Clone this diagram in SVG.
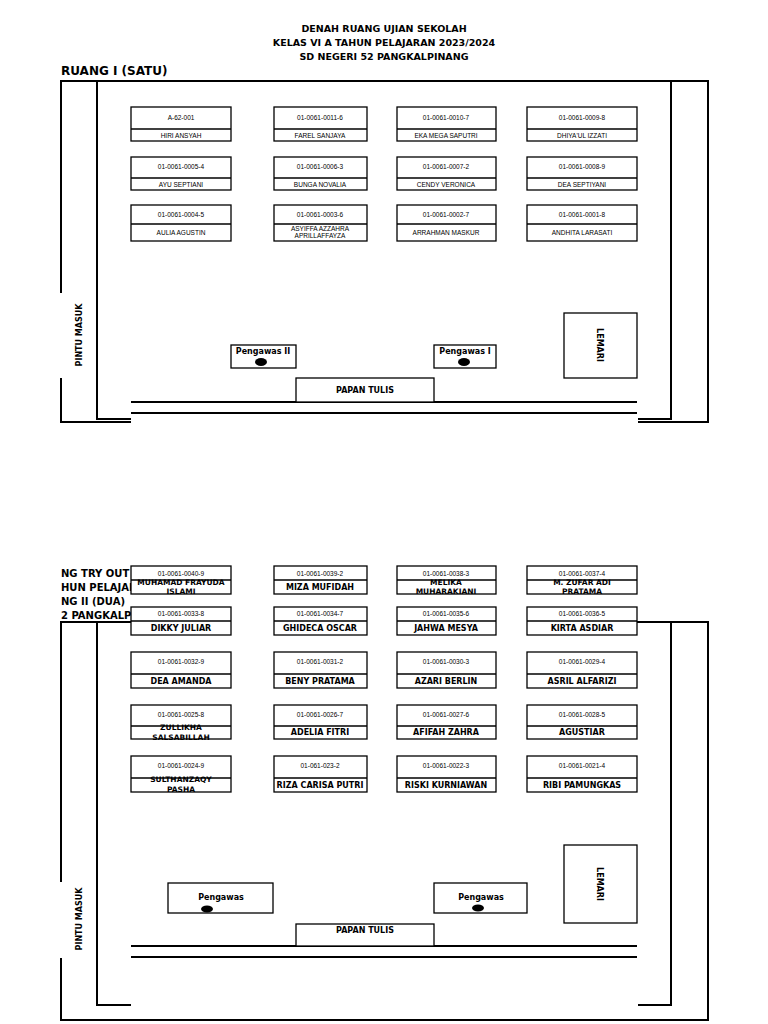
<svg xmlns="http://www.w3.org/2000/svg" width="768" height="1024" viewBox="0 0 768 1024">
<style>
.w{stroke:#000;stroke-width:2;fill:none}
.d rect{fill:#fff;stroke:#000;stroke-width:1.3}
.d line{stroke:#000;stroke-width:1.3}
.n{font-family:"Liberation Sans",sans-serif;font-size:6.5px;text-anchor:middle}
.m{font-family:"DejaVu Sans",sans-serif;font-size:8px;font-weight:bold;text-anchor:middle}
.m2{font-family:"DejaVu Sans",sans-serif;font-size:7.5px;font-weight:bold;text-anchor:middle}
.t{font-family:"DejaVu Sans",sans-serif;font-size:9.5px;font-weight:bold;text-anchor:middle}
.h{font-family:"DejaVu Sans",sans-serif;font-size:12px;font-weight:bold}
.h2{font-family:"DejaVu Sans",sans-serif;font-size:10px;font-weight:bold}
.s{font-family:"DejaVu Sans",sans-serif;font-size:8px;font-weight:bold;text-anchor:middle}
</style>
<rect width="768" height="1024" fill="#fff"/>
<g id="title1">
<text class="t" x="384" y="32">DENAH RUANG UJIAN SEKOLAH</text>
<text class="t" x="384" y="46">KELAS VI A TAHUN PELAJARAN 2023/2024</text>
<text class="t" x="384" y="60">SD NEGERI 52 PANGKALPINANG</text>
<text class="h" x="61" y="75">RUANG I (SATU)</text>
</g>
<g id="title2">
<text class="h2" x="61" y="577">NG TRY OUT</text>
<text class="h2" x="61" y="591">HUN PELAJAR</text>
<text class="h2" x="61" y="605">NG II (DUA)</text>
<text class="h2" x="61" y="619">2 PANGKALP</text>
</g>
<g id="walls1" class="w">
<path d="M61,293V81H708V422H638M131,422H61V378"/>
<path d="M97,81V419H131M638,419H671V81"/>
<path d="M131,402H637M131,413H637"/>
</g>
<g id="walls2" class="w">
<path d="M61,882V622H131M637,622H708V1020H61V958"/>
<path d="M97,622V1005H131M638,1005H671V622"/>
<path d="M131,946H637M131,957H637"/>
</g>
<g id="room1-items" class="d">
<rect x="296" y="378" width="138" height="24"/><text class="s" x="365" y="393">PAPAN TULIS</text>
<rect x="564" y="313" width="73" height="65"/><text class="s" transform="translate(597,345) rotate(90)">LEMARI</text>
<rect x="231" y="345" width="65" height="23"/><text class="s" x="263" y="354">Pengawas II</text><ellipse cx="261" cy="362" rx="6" ry="4"/>
<rect x="434" y="345" width="62" height="23"/><text class="s" x="465" y="354">Pengawas I</text><ellipse cx="464" cy="362" rx="6" ry="4"/>
<text class="s" transform="translate(82,335) rotate(-90)">PINTU MASUK</text>
</g>
<g id="room2-items" class="d">
<rect x="296" y="924" width="138" height="22"/><text class="s" x="365" y="933">PAPAN TULIS</text>
<rect x="564" y="845" width="73" height="78"/><text class="s" transform="translate(597,884) rotate(90)">LEMARI</text>
<rect x="168" y="883" width="105" height="30"/><text class="s" x="221" y="900">Pengawas</text><ellipse cx="207" cy="909" rx="6" ry="3.5"/>
<rect x="434" y="883" width="93" height="30"/><text class="s" x="481" y="900">Pengawas</text><ellipse cx="478" cy="908" rx="6" ry="3.5"/>
<text class="s" transform="translate(82,919) rotate(-90)">PINTU MASUK</text>
</g>
<g id="desks1" class="d">
<g><rect x="131" y="107" width="100" height="34"/><line x1="131" y1="129" x2="231" y2="129"/><text class="n" x="181" y="120">A-62-001</text><text class="n" x="181" y="138">HIRI ANSYAH</text></g>
<g><rect x="274" y="107" width="93" height="34"/><line x1="274" y1="129" x2="367" y2="129"/><text class="n" x="320" y="120">01-0061-0011-6</text><text class="n" x="320" y="138">FAREL SANJAYA</text></g>
<g><rect x="397" y="107" width="99" height="34"/><line x1="397" y1="129" x2="496" y2="129"/><text class="n" x="446" y="120">01-0061-0010-7</text><text class="n" x="446" y="138">EKA MEGA SAPUTRI</text></g>
<g><rect x="527" y="107" width="110" height="34"/><line x1="527" y1="129" x2="637" y2="129"/><text class="n" x="582" y="120">01-0061-0009-8</text><text class="n" x="582" y="138">DHIYA'UL IZZATI</text></g>
<g><rect x="131" y="157" width="100" height="33"/><line x1="131" y1="178" x2="231" y2="178"/><text class="n" x="181" y="169">01-0061-0005-4</text><text class="n" x="181" y="187">AYU SEPTIANI</text></g>
<g><rect x="274" y="157" width="93" height="33"/><line x1="274" y1="178" x2="367" y2="178"/><text class="n" x="320" y="169">01-0061-0006-3</text><text class="n" x="320" y="187">BUNGA NOVALIA</text></g>
<g><rect x="397" y="157" width="99" height="33"/><line x1="397" y1="178" x2="496" y2="178"/><text class="n" x="446" y="169">01-0061-0007-2</text><text class="n" x="446" y="187">CENDY VERONICA</text></g>
<g><rect x="527" y="157" width="110" height="33"/><line x1="527" y1="178" x2="637" y2="178"/><text class="n" x="582" y="169">01-0061-0008-9</text><text class="n" x="582" y="187">DEA SEPTIYANI</text></g>
<g><rect x="131" y="205" width="100" height="36"/><line x1="131" y1="224" x2="231" y2="224"/><text class="n" x="181" y="217">01-0061-0004-5</text><text class="n" x="181" y="235">AULIA AGUSTIN</text></g>
<g><rect x="274" y="205" width="93" height="36"/><line x1="274" y1="224" x2="367" y2="224"/><text class="n" x="320" y="217">01-0061-0003-6</text><text class="n" x="320" y="231" font-size="5.5">ASYIFFA AZZAHRA</text><text class="n" x="320" y="238" font-size="5.5">APRILLAFFAYZA</text></g>
<g><rect x="397" y="205" width="99" height="36"/><line x1="397" y1="224" x2="496" y2="224"/><text class="n" x="446" y="217">01-0061-0002-7</text><text class="n" x="446" y="235">ARRAHMAN MASKUR</text></g>
<g><rect x="527" y="205" width="110" height="36"/><line x1="527" y1="224" x2="637" y2="224"/><text class="n" x="582" y="217">01-0061-0001-8</text><text class="n" x="582" y="235">ANDHITA LARASATI</text></g>
</g>
<g id="desks2" class="d">
<g><rect x="131" y="566" width="100" height="28"/><line x1="131" y1="580" x2="231" y2="580"/><text class="n" x="181" y="576">01-0061-0040-9</text><text class="m2" x="181" y="585">MUHAMAD FRAYUDA</text><text class="m2" x="181" y="594">ISLAMI</text></g>
<g><rect x="274" y="566" width="93" height="28"/><line x1="274" y1="580" x2="367" y2="580"/><text class="n" x="320" y="576">01-0061-0039-2</text><text class="m" x="320" y="590">MIZA MUFIDAH</text></g>
<g><rect x="397" y="566" width="99" height="28"/><line x1="397" y1="580" x2="496" y2="580"/><text class="n" x="446" y="576">01-0061-0038-3</text><text class="m2" x="446" y="585">MELIKA</text><text class="m2" x="446" y="594">MUHARAKIANI</text></g>
<g><rect x="527" y="566" width="110" height="28"/><line x1="527" y1="580" x2="637" y2="580"/><text class="n" x="582" y="576">01-0061-0037-4</text><text class="m2" x="582" y="585">M. ZUFAR ADI</text><text class="m2" x="582" y="594">PRATAMA</text></g>
<g><rect x="131" y="607" width="100" height="28"/><line x1="131" y1="621" x2="231" y2="621"/><text class="n" x="181" y="616">01-0061-0033-8</text><text class="m" x="181" y="631">DIKKY JULIAR</text></g>
<g><rect x="274" y="607" width="93" height="28"/><line x1="274" y1="621" x2="367" y2="621"/><text class="n" x="320" y="616">01-0061-0034-7</text><text class="m" x="320" y="631">GHIDECA OSCAR</text></g>
<g><rect x="397" y="607" width="99" height="28"/><line x1="397" y1="621" x2="496" y2="621"/><text class="n" x="446" y="616">01-0061-0035-6</text><text class="m" x="446" y="631">JAHWA MESYA</text></g>
<g><rect x="527" y="607" width="110" height="28"/><line x1="527" y1="621" x2="637" y2="621"/><text class="n" x="582" y="616">01-0061-0036-5</text><text class="m" x="582" y="631">KIRTA ASDIAR</text></g>
<g><rect x="131" y="652" width="100" height="36"/><line x1="131" y1="674" x2="231" y2="674"/><text class="n" x="181" y="664">01-0061-0032-9</text><text class="m" x="181" y="684">DEA AMANDA</text></g>
<g><rect x="274" y="652" width="93" height="36"/><line x1="274" y1="674" x2="367" y2="674"/><text class="n" x="320" y="664">01-0061-0031-2</text><text class="m" x="320" y="684">BENY PRATAMA</text></g>
<g><rect x="397" y="652" width="99" height="36"/><line x1="397" y1="674" x2="496" y2="674"/><text class="n" x="446" y="664">01-0061-0030-3</text><text class="m" x="446" y="684">AZARI BERLIN</text></g>
<g><rect x="527" y="652" width="110" height="36"/><line x1="527" y1="674" x2="637" y2="674"/><text class="n" x="582" y="664">01-0061-0029-4</text><text class="m" x="582" y="684">ASRIL ALFARIZI</text></g>
<g><rect x="131" y="705" width="100" height="34"/><line x1="131" y1="726" x2="231" y2="726"/><text class="n" x="181" y="717">01-0061-0025-8</text><text class="m2" x="181" y="730">ZULLIKHA</text><text class="m2" x="181" y="740">SALSABILLAH</text></g>
<g><rect x="274" y="705" width="93" height="34"/><line x1="274" y1="726" x2="367" y2="726"/><text class="n" x="320" y="717">01-0061-0026-7</text><text class="m" x="320" y="735">ADELIA FITRI</text></g>
<g><rect x="397" y="705" width="99" height="34"/><line x1="397" y1="726" x2="496" y2="726"/><text class="n" x="446" y="717">01-0061-0027-6</text><text class="m" x="446" y="735">AFIFAH ZAHRA</text></g>
<g><rect x="527" y="705" width="110" height="34"/><line x1="527" y1="726" x2="637" y2="726"/><text class="n" x="582" y="717">01-0061-0028-5</text><text class="m" x="582" y="735">AGUSTIAR</text></g>
<g><rect x="131" y="756" width="100" height="36"/><line x1="131" y1="778" x2="231" y2="778"/><text class="n" x="181" y="768">01-0061-0024-9</text><text class="m2" x="181" y="782">SULTHANZAQY</text><text class="m2" x="181" y="792">PASHA</text></g>
<g><rect x="274" y="756" width="93" height="36"/><line x1="274" y1="778" x2="367" y2="778"/><text class="n" x="320" y="768">01-061-023-2</text><text class="m" x="320" y="788">RIZA CARISA PUTRI</text></g>
<g><rect x="397" y="756" width="99" height="36"/><line x1="397" y1="778" x2="496" y2="778"/><text class="n" x="446" y="768">01-0061-0022-3</text><text class="m" x="446" y="788" font-size="7">RISKI KURNIAWAN</text></g>
<g><rect x="527" y="756" width="110" height="36"/><line x1="527" y1="778" x2="637" y2="778"/><text class="n" x="582" y="768">01-0061-0021-4</text><text class="m" x="582" y="788">RIBI PAMUNGKAS</text></g>
</g>
</svg>
